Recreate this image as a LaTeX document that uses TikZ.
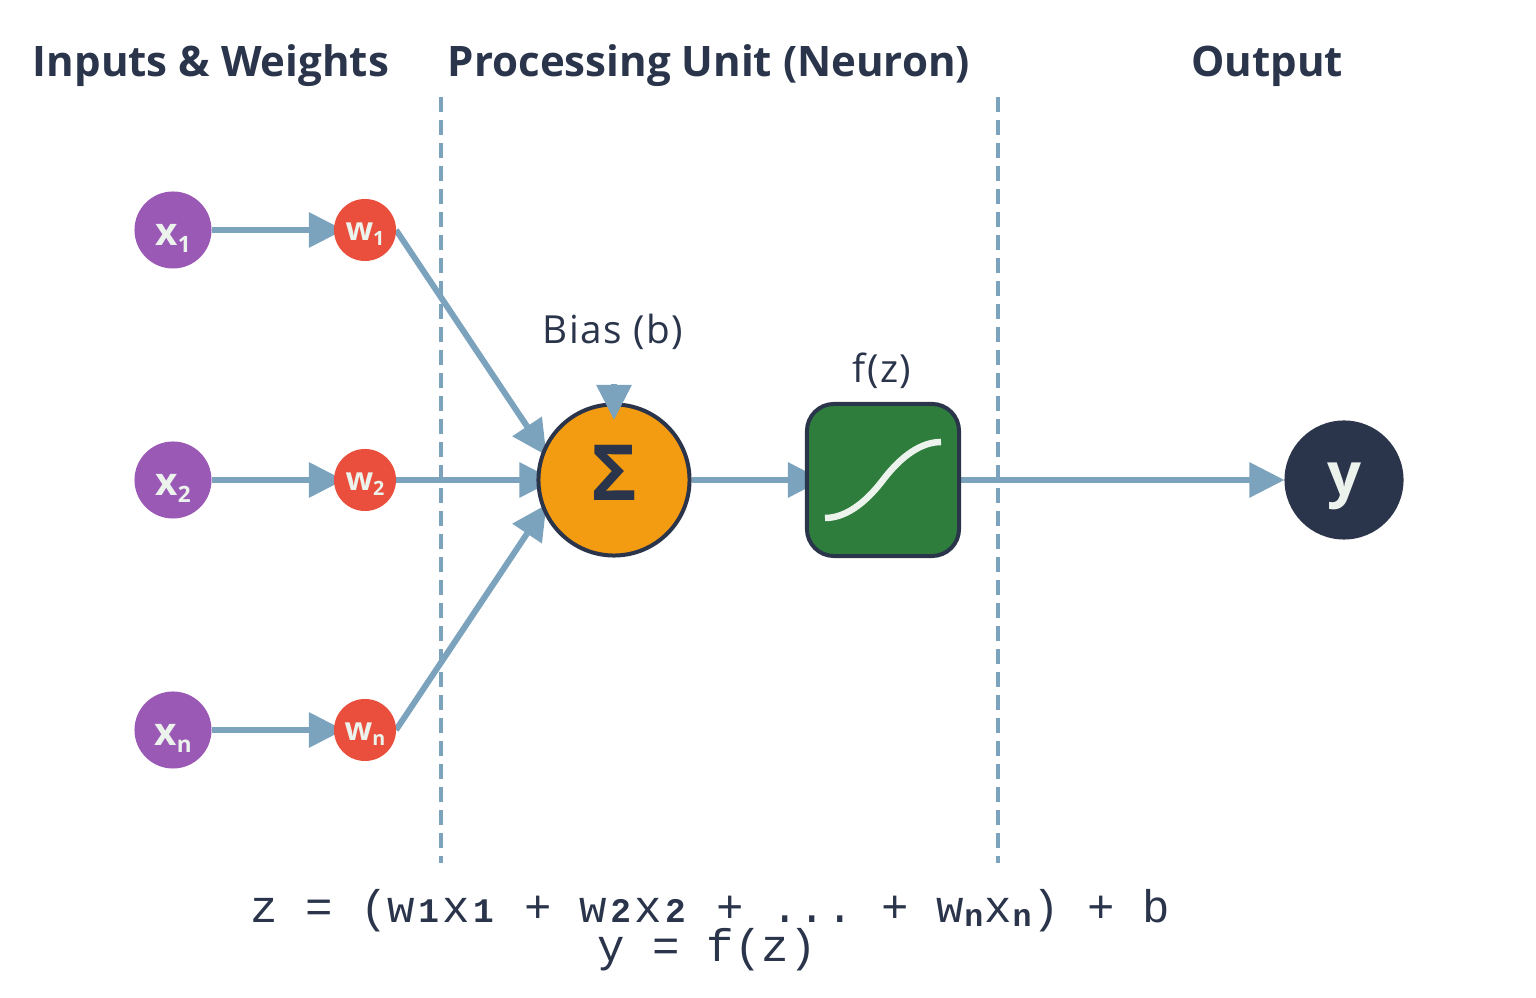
\documentclass[tikz,border=0pt]{standalone}
\usepackage{fontspec}
\setmainfont{Open Sans}
\setmonofont{Liberation Mono}
\usetikzlibrary{arrows.meta,backgrounds}

\definecolor{inkc}{HTML}{2A344A}
\definecolor{flowc}{HTML}{7BA3BE}
\definecolor{inputc}{HTML}{9B59B6}
\definecolor{weightc}{HTML}{E94F3C}
\definecolor{sumc}{HTML}{F39C12}
\definecolor{activc}{HTML}{2E7D3C}
\definecolor{paperc}{HTML}{ECF3EC}

\newcommand{\fsize}[1]{\fontsize{#1}{#1}\selectfont}
\newcommand{\subd}[1]{\makebox[7.8pt][c]{\fsize{9.8}\bfseries #1}}
\newcommand{\subl}[1]{\makebox[5.9pt][c]{\raisebox{-1.1pt}{\fsize{9}\bfseries #1}}}
\newcommand{\xlab}[1]{\raisebox{-4.5pt}{x\raisebox{-2pt}{\fsize{6.4}#1}}}
\newcommand{\wlab}[1]{\raisebox{-3pt}{w\raisebox{-1.5pt}{\fsize{5.6}#1}}}

\tikzset{
  heading/.style={text=inkc,font=\fsize{11.95}\bfseries,inner sep=0pt},
  caption/.style={text=inkc,font=\fsize{11}\addfontfeatures{LetterSpace=4},inner sep=0pt},
  formula/.style={text=inkc,font=\ttfamily\fsize{13},inner sep=0pt},
  pinned/.style={text height=0pt,text depth=0pt},
  inputdot/.style={circle,pinned,fill=inputc,minimum size=0.77cm,inner sep=0pt,outer sep=0pt,text=paperc,font=\fsize{11}\bfseries},
  weightdot/.style={circle,pinned,fill=weightc,minimum size=0.62cm,inner sep=0pt,outer sep=0pt,text=paperc,font=\fsize{9.2}\bfseries},
  flow/.style={draw=flowc,line width=0.06cm,-{Triangle[length=0.35cm,width=0.34cm]}},
  divider/.style={draw=flowc,line width=0.045cm,dash pattern=on 0.15cm off 0.08cm},
}

\begin{document}
\begin{tikzpicture}[x=0.01cm, y=-0.01cm, line join=round]
\useasboundingbox (0,0) rectangle (1536,998);
% titles
\node[heading] (tinputs) at (211,66) {Inputs \& Weights};
\node[heading] (tunit)   at (709,66) {Processing Unit (Neuron)};
\node[heading] (toutput) at (1267,66) {Output};
% inputs and weights
\node[inputdot]  (x1) at (173,230) {\xlab{1}};
\node[inputdot]  (x2) at (173,480) {\xlab{2}};
\node[inputdot]  (xn) at (173,730) {\xlab{n}};
\node[weightdot] (w1) at (365,230) {\wlab{1}};
\node[weightdot] (w2) at (365,480) {\wlab{2}};
\node[weightdot] (wn) at (365,730) {\wlab{n}};
% neuron
\node[circle,pinned,draw=inkc,fill=sumc,line width=0.04cm,minimum size=1.51cm,inner sep=0pt,text=inkc,font=\fsize{22}\bfseries] (sum) at (614,480) {\raisebox{-5.7pt}{Σ}};
\node[draw=inkc,fill=activc,line width=0.04cm,rounded corners=0.27cm,minimum size=1.52cm,inner sep=0pt] (act) at (883,480) {};
\node[circle,pinned,fill=inkc,minimum size=1.19cm,inner sep=0pt,outer sep=0pt,text=paperc,font=\fsize{17}\bfseries] (y) at (1344,480) {\raisebox{-4.5pt}{y}};
\node[caption] (bias) at (613,332) {Bias (b)};
\node[caption] (fz)   at (882,371) {f(z)};
% dividers and connectors go under the nodes
\coordinate (d1top) at (441,97);
\coordinate (d1bot) at (441,863);
\coordinate (d2top) at (998,97);
\coordinate (d2bot) at (998,863);
\begin{scope}[on background layer]
\draw[divider] (d1top)--(d1bot);
\draw[divider] (d2top)--(d2bot);
\draw[flow,shorten >=-0.10cm] (x1)--(w1);
\draw[flow,shorten >=-0.10cm] (x2)--(w2);
\draw[flow,shorten >=-0.10cm] (xn)--(wn);
\draw[flow,shorten >=-0.07cm] (w1.east)--(sum.157);
\draw[flow,shorten >=-0.18cm] (w2.east)--(sum.west);
\draw[flow,shorten >=-0.07cm] (wn.east)--(sum.203);
\draw[flow,shorten >=-0.18cm] (sum.east)--(act.west);
\draw[flow] (act.east)--(y.west);
\end{scope}
% bias arrow sits on top of the neuron
\coordinate (biasin) at (614,384);
\coordinate (biasend) at (614,420);
\draw[flow] (biasin)--(biasend);
% sigmoid
\draw[paperc,line width=0.065cm] (825,518) .. controls (844,518) and (864,505) .. (883,480)
  .. controls (902,455) and (922,442) .. (941,442);
% equations
\node[formula] (zeq) at (710,911) {z = (w\subd{1}x\subd{1} + w\subd{2}x\subd{2} + ... + w\subl{n}x\subl{n}) + b};
\node[formula] (yeq) at (707,950) {y = f(z)};
\end{tikzpicture}
\end{document}
